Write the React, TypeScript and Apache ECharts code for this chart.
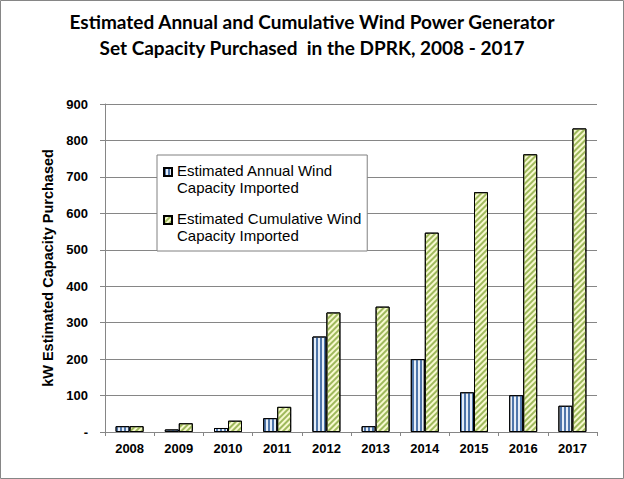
import React, { useEffect, useRef } from 'react';
import * as echarts from 'echarts';

const years = ['2008', '2009', '2010', '2011', '2012', '2013', '2014', '2015', '2016', '2017'];
const annual = [16, 7, 11, 38, 262, 16, 200, 109, 101, 72];
const cumulative = [16, 24, 31, 69, 328, 344, 547, 658, 762, 833];
const yTicks = [0, 100, 200, 300, 400, 500, 600, 700, 800, 900];

const titleText = 'Estimated Annual and Cumulative Wind Power Generator\nSet Capacity Purchased  in the DPRK, 2008 - 2017';
const annualName = 'Estimated Annual Wind\nCapacity Imported';
const cumulativeName = 'Estimated Cumulative Wind\nCapacity Imported';

const App: React.FC = () => {
  const chartRef = useRef<HTMLDivElement>(null);

  useEffect(() => {
    if (!chartRef.current) return;
    const chart = echarts.init(chartRef.current, undefined, { renderer: 'svg' });

    // icon drawn in the upper part of a taller box so it sits beside the first text line
    const legendIcon = 'path://M0,0H8V8H0Z M0,22';

    const option: echarts.EChartsOption = {
      animation: false,
      backgroundColor: '#ffffff',
      title: {
        text: titleText,
        left: 'center',
        top: 3,
        textStyle: {
          fontFamily: 'Lato',
          fontWeight: 'bold',
          fontSize: 19,
          lineHeight: 26,
          color: '#000',
        },
      },
      legend: {
        orient: 'vertical',
        left: 157,
        top: 155,
        width: 210,
        backgroundColor: '#ffffff',
        borderColor: '#808080',
        borderWidth: 1,
        padding: [7, 6, 7, 6],
        itemGap: 14,
        itemWidth: 8,
        itemHeight: 22,
        icon: legendIcon,
        textStyle: {
          fontFamily: 'Liberation Sans',
          fontSize: 15,
          lineHeight: 17,
          color: '#000',
        },
        data: [annualName, cumulativeName],
      },
      grid: {
        left: 105,
        right: 27,
        top: 104,
        bottom: 47,
      },
      xAxis: {
        type: 'category',
        data: years,
        axisLine: { lineStyle: { color: '#868686' } },
        axisTick: { show: true, length: 4, lineStyle: { color: '#868686' } },
        axisLabel: {
          margin: 10,
          fontFamily: 'Liberation Sans',
          fontWeight: 'bold',
          fontSize: 13,
          color: '#000',
        },
      },
      yAxis: {
        type: 'value',
        min: yTicks[0],
        max: yTicks[yTicks.length - 1],
        interval: 100,
        name: 'kW Estimated Capacity Purchased',
        nameLocation: 'middle',
        nameGap: 42,
        nameTextStyle: {
          fontFamily: 'Liberation Sans',
          fontWeight: 'bold',
          fontSize: 14.5,
          color: '#000',
        },
        axisLine: { show: true, lineStyle: { color: '#868686' } },
        axisTick: { show: true, length: 5, lineStyle: { color: '#868686' } },
        splitLine: { lineStyle: { color: '#868686', width: 1 } },
        axisLabel: {
          margin: 17,
          fontFamily: 'Liberation Sans',
          fontWeight: 'bold',
          fontSize: 13,
          color: '#000',
          formatter: (v: number) => (v === 0 ? '-' : String(v)),
        },
      },
      series: [
        {
          name: annualName,
          type: 'bar',
          data: annual,
          barWidth: 14,
          barGap: '0%',
          itemStyle: {
            color: '#e6eef8',
            borderColor: '#000',
            borderWidth: 1,
            decal: {
              symbol: 'rect',
              symbolSize: 1,
              symbolKeepAspect: false,
              color: '#4f76aa',
              dashArrayX: [1.5, 1.5],
              dashArrayY: [10, 0],
              rotation: 0,
            },
          },
        },
        {
          name: cumulativeName,
          type: 'bar',
          data: cumulative,
          barWidth: 14,
          barGap: '0%',
          itemStyle: {
            color: '#f7f9cf',
            borderColor: '#000',
            borderWidth: 1,
            decal: {
              symbol: 'rect',
              symbolSize: 1,
              symbolKeepAspect: false,
              color: '#9fb95c',
              dashArrayX: [1.5, 1.5],
              dashArrayY: [10, 0],
              rotation: Math.PI / 4,
            },
          },
        },
      ],
      graphic: [
        {
          type: 'rect',
          shape: { x: 0.5, y: 0.5, width: 623, height: 478 },
          style: { fill: 'none', stroke: '#868686', lineWidth: 1 },
          silent: true,
        },
      ],
    };

    chart.setOption(option);

    return () => {
      chart.dispose();
    };
  }, []);

  return (
    <div
      ref={chartRef}
      style={{ position: 'fixed', left: 0, top: 0, width: '624px', height: '479px' }}
    />
  );
};

export default App;
